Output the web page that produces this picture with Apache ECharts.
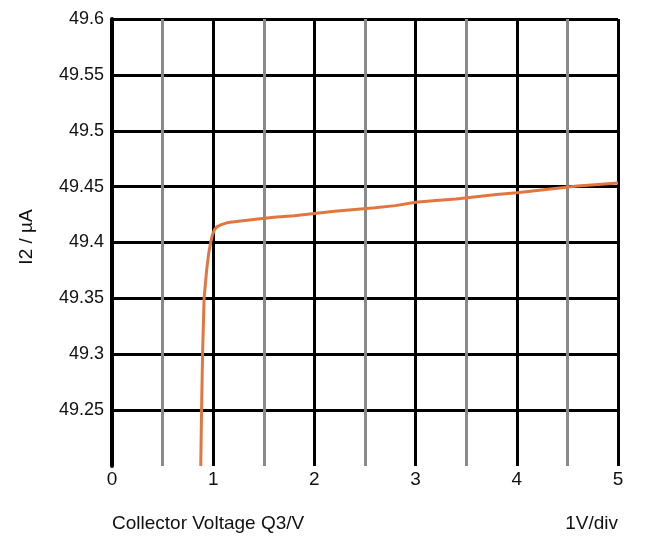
<!DOCTYPE html>
<html>
<head>
<meta charset="utf-8">
<script src="https://cdn.jsdelivr.net/npm/echarts@6/dist/echarts.min.js"></script>
<style>
html,body{margin:0;padding:0;background:#fff;}
#chart{width:645px;height:550px;}
</style>
</head>
<body>
<div id="chart"></div>
<script>
// Collector voltage (V)
const voltage = [0.877, 0.885, 0.895, 0.91, 0.935, 0.955, 0.975, 0.99, 1.01, 1.035, 1.08, 1.15, 1.25, 1.4, 1.6, 1.8, 2.0, 2.2, 2.4, 2.6, 2.8, 3.0, 3.2, 3.4, 3.6, 3.8, 4.0, 4.2, 4.4, 4.6, 4.8, 5.0];
// I2 current (µA)
const current = [49.2, 49.25, 49.3, 49.35, 49.375, 49.39, 49.4, 49.406, 49.411, 49.414, 49.416, 49.418, 49.419, 49.4205, 49.4225, 49.424, 49.426, 49.428, 49.4295, 49.431, 49.433, 49.436, 49.4375, 49.439, 49.441, 49.443, 49.4445, 49.4465, 49.4485, 49.4505, 49.452, 49.4533];
const xTickLabels = ['0', '1', '2', '3', '4', '5'];
const yTickValues = [49.25, 49.3, 49.35, 49.4, 49.45, 49.5, 49.55, 49.6];

const font = "'Liberation Sans', Arial, sans-serif";
const txt = '#111111';
const chart = echarts.init(document.getElementById('chart'));
chart.setOption({
  animation: false,
  grid: {left: 112, right: 27, top: 19, bottom: 84},
  xAxis: {
    type: 'value', min: 0, max: 5, interval: 0.5,
    axisLine: {show: false}, axisTick: {show: false},
    axisLabel: {
      color: txt, fontSize: 19, fontFamily: font, margin: 4,
      formatter: v => { const s = String(Math.round(v)); return (Math.abs(v - Math.round(v)) < 1e-6 && xTickLabels.includes(s)) ? s : ''; }
    },
    splitLine: {show: true, lineStyle: {color: ['#000000', '#8a8a8a'], width: 3}}
  },
  yAxis: {
    type: 'value', min: 49.2, max: 49.6, interval: 0.05,
    axisLine: {show: true, lineStyle: {color: '#000', width: 4}},
    axisTick: {show: false},
    axisLabel: {
      color: txt, fontSize: 18, fontFamily: font, margin: 8,
      formatter: v => { const t = yTickValues.find(y => Math.abs(y - v) < 1e-6); return t === undefined ? '' : String(t); }
    },
    splitLine: {show: true, showMinLine: false, lineStyle: {color: '#000', width: 3}}
  },
  series: [{
    type: 'line',
    data: voltage.map((v, i) => [v, current[i]]),
    showSymbol: false, symbol: 'none',
    lineStyle: {color: '#e2763e', width: 3},
    clip: true
  }],
  graphic: [
    {type: 'text', x: 112, y: 524, style: {text: 'Collector Voltage Q3/V', fill: txt, font: '19px ' + font, textVerticalAlign: 'middle', textAlign: 'left'}},
    {type: 'text', x: 618, y: 524, style: {text: '1V/div', fill: txt, font: '19px ' + font, textVerticalAlign: 'middle', textAlign: 'right'}},
    {type: 'text', x: 27, y: 237, rotation: Math.PI / 2, style: {text: 'I2 / µA', fill: txt, font: '19px ' + font, textVerticalAlign: 'middle', textAlign: 'center'}}
  ]
});
</script>
</body>
</html>
